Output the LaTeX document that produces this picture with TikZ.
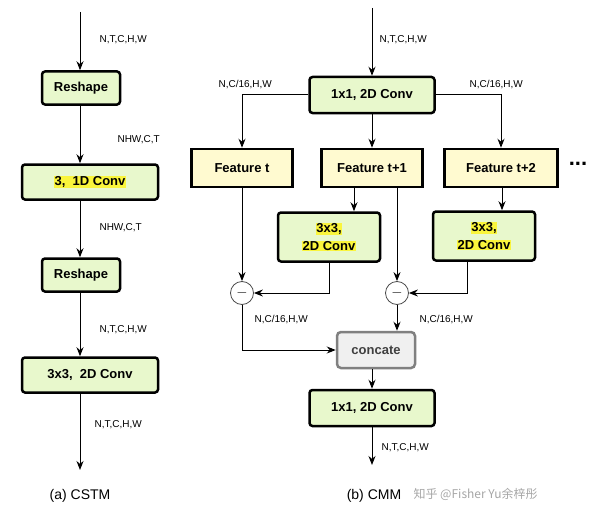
\documentclass[tikz,border=0pt]{standalone}
\usepackage{fontspec}
\setmainfont{Liberation Sans}
\newfontfamily\cjk{Noto Sans CJK SC}
\usetikzlibrary{arrows.meta, positioning, shapes.geometric}
\definecolor{convgreen}{RGB}{232,248,204}
\definecolor{featyellow}{RGB}{255,250,208}
\definecolor{hilite}{RGB}{250,245,60}
\tikzset{
    conv/.style={rectangle, draw, line width=2.5pt, fill=convgreen, rounded corners=3pt, align=center, font=\bfseries\fontsize{13}{16}\selectfont},
    feat/.style={rectangle, draw, line width=2.5pt, fill=featyellow, minimum height=38pt, align=center, font=\bfseries\fontsize{13}{16}\selectfont},
    cat/.style={rectangle, draw=gray, line width=2.5pt, fill=gray!12, rounded corners=4pt, minimum width=78pt, minimum height=36pt, font=\bfseries\fontsize{13}{16}\selectfont, text=black!75},
    minus/.style={circle, draw=black!70, thick, fill=white, minimum size=23pt, inner sep=0pt, font=\Large},
    arrow/.style={-{Stealth[length=9pt,width=7pt]}, line width=1pt},
    lbl/.style={font=\fontsize{10}{12}\selectfont, anchor=west},
}
\newcommand{\hl}[1]{\colorbox{hilite}{#1}}
\setlength{\fboxsep}{0.5pt}
\begin{document}
\begin{tikzpicture}[x=1pt, y=-1pt]
        \useasboundingbox (0,0) rectangle (600,519);
        % (a) CSTM
        \coordinate (ain) at (80,12);
        \node [conv, minimum width=78pt, minimum height=33pt] (resh1) at (81,88) {Reshape};
        \node [conv, minimum width=136pt, minimum height=35pt] (conv1d) at (90,182) {\hl{3,\ \ 1D Conv}};
        \node [conv, minimum width=78pt, minimum height=33pt] (resh2) at (81,275) {Reshape};
        \node [conv, minimum width=136pt, minimum height=35pt] (conva) at (90,375) {3x3,\ \ 2D Conv};
        \coordinate (aout) at (80,470);
        \draw [arrow] (ain) -- (ain |- resh1.north);
        \draw [arrow] (resh1.south -| ain) -- (ain |- conv1d.north);
        \draw [arrow] (conv1d.south -| ain) -- (ain |- resh2.north);
        \draw [arrow] (resh2.south -| ain) -- (ain |- conva.north);
        \draw [arrow] (conva.south -| ain) -- (aout);
        \node [lbl] at (96,40) {N,T,C,H,W};
        \node [lbl] at (114,140) {NHW,C,T};
        \node [lbl] at (96,228) {NHW,C,T};
        \node [lbl] at (96,330) {N,T,C,H,W};
        \node [lbl] at (91,425) {N,T,C,H,W};
        \node [font=\fontsize{14}{16}\selectfont] (capa) at (80,496) {(a) CSTM};

        % (b) CMM
        \coordinate (bin) at (372,8);
        \node [conv, minimum width=125pt, minimum height=36pt] (top) at (372,95) {1x1, 2D Conv};
        \node [feat, minimum width=101pt] (ft0) at (242,168) {Feature t};
        \node [feat, minimum width=101pt] (ft1) at (372,168) {Feature t+1};
        \node [feat, minimum width=113pt] (ft2) at (501,168) {Feature t+2};
        \node [font=\bfseries\fontsize{22}{22}\selectfont] (dots) at (578,164) {...};
        \node [conv, minimum width=102pt, minimum height=49pt] (c1) at (329,237) {\hl{3x3,}\\[2pt]\hl{2D Conv}};
        \node [conv, minimum width=102pt, minimum height=49pt] (c2) at (484,236) {\hl{3x3,}\\[2pt]\hl{2D Conv}};
        \node [minus] (m1) at (242,293) {$-$};
        \node [minus] (m2) at (397,293) {$-$};
        \node [cat] (cat) at (376,350) {concate};
        \node [conv, minimum width=125pt, minimum height=36pt] (bot) at (372,408) {1x1, 2D Conv};
        \coordinate (bout) at (372,465);
        \coordinate (s1) at (354,0);
        \coordinate (s2) at (502,0);
        \coordinate (s3) at (467,0);

        \draw [arrow] (bin) -- (top);
        \draw [arrow] (top.west) -| (ft0.north);
        \draw [arrow] (top.south) -- (ft1.north);
        \draw [arrow] (top.east) -| (ft2.north);
        \draw [arrow] (ft1.south -| s1) -- (s1 |- c1.north);
        \draw [arrow] (ft2.south -| s2) -- (s2 |- c2.north);
        \draw [arrow] (ft0.south) -- (m1.north);
        \draw [arrow] (ft1.south -| m2) -- (m2.north);
        \draw [arrow] (c1.south) |- (m1.east);
        \draw [arrow] (c2.south -| s3) |- (m2.east);
        \draw [arrow] (m1.south) |- (cat.west);
        \draw [arrow] (m2.south) -- (m2 |- cat.north);
        \draw [arrow] (cat.south -| bot) -- (bot.north);
        \draw [arrow] (bot.south) -- (bout);

        \node [lbl] at (376,40) {N,T,C,H,W};
        \node [lbl] at (215,85) {N,C/16,H,W};
        \node [lbl] at (466,85) {N,C/16,H,W};
        \node [lbl] at (251,320) {N,C/16,H,W};
        \node [lbl] at (416,320) {N,C/16,H,W};
        \node [lbl] at (378,448) {N,T,C,H,W};
        \node [font=\fontsize{14}{16}\selectfont] (capb) at (374,496) {(b) CMM};
        \node [font=\cjk\fontsize{12}{14}\selectfont, text=black!35, anchor=west] (wm) at (410,494) {知乎 @Fisher Yu余梓彤};
\end{tikzpicture}
\end{document}
